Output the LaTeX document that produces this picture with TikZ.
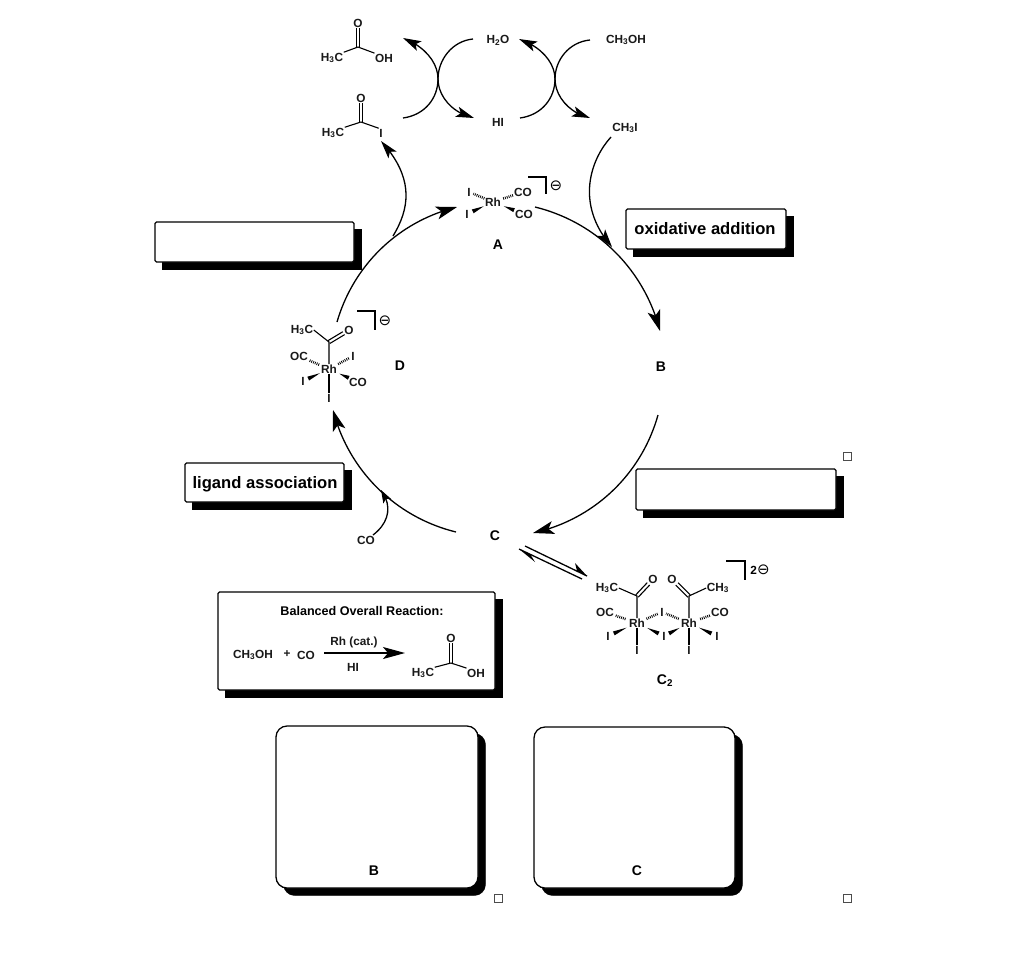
\documentclass[tikz,border=0pt]{standalone}
\usepackage{fontspec}
\setmainfont{Liberation Sans}
\newfontfamily\symfont{DejaVu Sans}
\usetikzlibrary{arrows.meta,calc,bending}
\newcommand{\sbs}[1]{\textsubscript{#1}}
\newcommand{\wdg}[4]{\fill ($(#1)!#3!(#2)$) -- ($($(#1)!#4!(#2)$)!2.1pt!90:(#1)$) -- ($($(#1)!#4!(#2)$)!2.1pt!-90:(#1)$) -- cycle;}
\newcommand{\hsh}[4]{\draw[hashbond] ($(#1)!#3!(#2)$) -- ($(#1)!#4!(#2)$);}
\newcommand{\dbl}[2]{\draw[bond,transform canvas={shift={(-1.6pt,0pt)}}] (#1) -- (#2); \draw[bond,transform canvas={shift={(1.6pt,0pt)}}] (#1) -- (#2);}
\tikzset{
  atom/.style={font=\fontsize{11.8}{13}\selectfont\bfseries,inner sep=0.5pt,text=black!90},
  lab/.style={font=\fontsize{14}{16}\selectfont\bfseries,inner sep=1pt},
  boxtext/.style={font=\fontsize{16.6}{19}\selectfont\bfseries,inner sep=0pt},
  ttlstyle/.style={font=\fontsize{12.6}{14}\selectfont\bfseries,inner sep=0pt},
  chg/.style={font=\symfont\fontsize{15}{16}\selectfont,inner sep=0pt},
  bond/.style={line width=1.1pt},
  hashbond/.style={line width=2.6pt,dash pattern=on 0.8pt off 1.1pt},
  bigarrow/.style={line width=1.3pt,-{Stealth[length=21pt,width=13pt,inset=5pt,flex]}},
  smallarrow/.style={line width=1.3pt,-{Stealth[length=18pt,width=10.5pt,inset=4pt,flex]}},
  curvel/.style={line width=1.3pt},
  shadow/.style={fill=black,draw=black,line width=0.3pt},
  whitebox/.style={fill=white,draw=black,line width=1.3pt},
  tinybox/.style={fill=white,draw=black!70,line width=1pt},
  brk/.style={line width=1.2pt},
}
\begin{document}
\begin{tikzpicture}[x=1pt,y=-1pt]
\useasboundingbox (0,0) rectangle (1024,972);
\fill[white] (0,0) rectangle (1024,972);

% ---------- boxes
\foreach \xa/\ya/\xb/\yb in {155/222/354/262,626/209/786/249,636/469/836/510,185/463/344/502,218/592/495/690}{
  \path[shadow] (\xa+7.5,\ya+7.5) rectangle (\xb+7.5,\yb+7.5);
  \path[whitebox,rounded corners=1.5pt] (\xa,\ya) rectangle (\xb,\yb);
}
\foreach \xa/\ya/\xb/\yb in {276/726/478/888,534/727/735/888}{
  \path[shadow,rounded corners=11pt] (\xa+7.5,\ya+7.5) rectangle (\xb+7.5,\yb+7.5);
  \path[whitebox,rounded corners=11pt] (\xa,\ya) rectangle (\xb,\yb);
}
\foreach \xa/\ya in {843.5/452.5,494.5/894.5,843.5/894.5}{
  \path[tinybox] (\xa,\ya) rectangle (\xa+8,\ya+8);
}
\node[boxtext] (oxadd) at (705,229) {oxidative addition};
\node[boxtext] (ligas) at (265,484) {ligand association};

% ---------- labels
\node[lab] (lA) at (498,245) {A};
\node[lab] (lB) at (661,367) {B};
\node[lab] (lC) at (495,536) {C};
\node[lab] (lD) at (400,366) {D};
\node[lab] (lC2) at (665,681) {C\sbs{2}};
\node[lab] (lB2) at (374,871) {B};
\node[lab] (lC3) at (637,871) {C};

% ---------- small molecules
\node[atom] (h2o) at (498,40) {H\sbs{2}O};
\node[atom] (meoh) at (626,40) {CH\sbs{3}OH};
\node[atom] (hi) at (498,122) {HI};
\node[atom] (mei) at (625,128) {CH\sbs{3}I};
\node[atom] (co) at (366,540) {CO};

% acetic acid (top)
\node[atom] (aaO) at (358,23) {O};
\coordinate (aaC) at (358,47);
\node[atom] (aaMe) at (332,58) {H\sbs{3}C};
\node[atom] (aaOH) at (384,58) {OH};
\dbl{aaO}{aaC}
\draw[bond] (aaMe.north east) -- (aaC) -- (aaOH.north west);

% acetyl iodide
\node[atom] (aiO) at (361,98) {O};
\coordinate (aiC) at (361,122);
\node[atom] (aiMe) at (333,133) {H\sbs{3}C};
\node[atom] (aiI) at (381,133) {I};
\dbl{aiO}{aiC}
\draw[bond] (aiMe.north east) -- (aiC) -- (aiI.north west);

% complex A
\node[atom] (rhA) at (493,202) {Rh};
\node[atom] (iA1) at (469,192) {I};
\node[atom] (iA2) at (467,214) {I};
\node[atom] (coA1) at (523,192) {CO};
\node[atom] (coA2) at (524,214) {CO};
\hsh{rhA}{iA1}{.36}{.82}
\wdg{rhA}{iA2}{.36}{.78}
\hsh{rhA}{coA1}{.34}{.68}
\wdg{rhA}{coA2}{.35}{.68}
\coordinate (bA1) at (528,177); \coordinate (bA2) at (546,177); \coordinate (bA3) at (546,194);
\draw[brk] (bA1) -- (bA2) -- (bA3);
\node[chg] (chA) at (556,186) {⊖};

% complex D
\node[atom] (rhD) at (329,369) {Rh};
\node[atom] (meD) at (302,330) {H\sbs{3}C};
\node[atom] (oD) at (349,330) {O};
\coordinate (cD) at (329,342);
\node[atom] (ocD) at (299,356) {OC};
\node[atom] (iD1) at (353,356) {I};
\node[atom] (iD2) at (303,381) {I};
\node[atom] (coD) at (358,382) {CO};
\node[atom] (iD3) at (329,398) {I};
\draw[bond] (meD.east) -- (cD) -- (rhD);
\draw[bond] (rhD) -- (iD3);
\draw[bond,transform canvas={shift={(-.9pt,1.45pt)}}] (cD) -- (oD);
\draw[bond,transform canvas={shift={(.9pt,-1.45pt)}}] (cD) -- (oD);
\hsh{rhD}{ocD}{.33}{.66}
\hsh{rhD}{iD1}{.38}{.85}
\wdg{rhD}{iD2}{.35}{.8}
\wdg{rhD}{coD}{.36}{.68}
\coordinate (bD1) at (357,311); \coordinate (bD2) at (375,311); \coordinate (bD3) at (375,330);
\draw[brk] (bD1) -- (bD2) -- (bD3);
\node[chg] (chD) at (385,321) {⊖};

% complex C2
\node[atom] (rhL) at (637,623) {Rh};
\node[atom] (rhR) at (689,623) {Rh};
\coordinate (cL) at (637,596);
\coordinate (cR) at (689,596);
\node[atom] (meL) at (607,588) {H\sbs{3}C};
\node[atom] (meR) at (718,588) {CH\sbs{3}};
\node[atom] (oL) at (653,579) {O};
\node[atom] (oR) at (672,579) {O};
\node[atom] (ocL) at (605,612) {OC};
\node[atom] (coR) at (720,612) {CO};
\node[atom] (iL) at (608,636) {I};
\node[atom] (iR) at (717,636) {I};
\node[atom] (iBu) at (662,612) {I};
\node[atom] (iBl) at (664,636) {I};
\node[atom] (iLb) at (637,650) {I};
\node[atom] (iRb) at (689,650) {I};
\draw[bond] (meL.east) -- (cL) -- (rhL);
\draw[bond] (meR.west) -- (cR) -- (rhR);
\draw[bond] (rhL) -- (iLb);
\draw[bond] (rhR) -- (iRb);
\draw[bond,transform canvas={shift={(-1.2pt,1.2pt)}}] (cL) -- (oL);
\draw[bond,transform canvas={shift={(1.2pt,-1.2pt)}}] (cL) -- (oL);
\draw[bond,transform canvas={shift={(1.2pt,1.2pt)}}] (cR) -- (oR);
\draw[bond,transform canvas={shift={(-1.2pt,-1.2pt)}}] (cR) -- (oR);
\hsh{rhL}{ocL}{.36}{.68}
\hsh{rhL}{iBu}{.38}{.85}
\wdg{rhL}{iL}{.36}{.8}
\wdg{rhL}{iBl}{.38}{.8}
\hsh{rhR}{iBu}{.38}{.85}
\wdg{rhR}{iBl}{.38}{.8}
\hsh{rhR}{coR}{.36}{.68}
\wdg{rhR}{iR}{.36}{.8}
\coordinate (bC1) at (726,561); \coordinate (bC2) at (745,561); \coordinate (bC3) at (745,580);
\draw[brk] (bC1) -- (bC2) -- (bC3);
\node[inner sep=0pt] (chC) at (760,570) {\fontsize{11.8}{13}\selectfont\textbf{2}{\symfont\fontsize{15}{16}\selectfont ⊖}};

% ---------- overall reaction
\node[ttlstyle] (ttl) at (362,611) {Balanced Overall Reaction:};
\node[atom] (rMe) at (253,655) {CH\sbs{3}OH};
\node[atom] (rPl) at (287,654) {+};
\node[atom] (rCO) at (306,655) {CO};
\node[atom] (rCat) at (354,642) {Rh (cat.)};
\node[atom] (rHI) at (353,667) {HI};
\coordinate (rA1) at (324,653);
\coordinate (rA2) at (405,653);
\draw[line width=1.3pt,-{Stealth[length=22pt,width=12pt,inset=5pt]}] (rA1) -- (rA2);
\node[atom] (pO) at (451,638) {O};
\coordinate (pC) at (451,663);
\node[atom] (pMe) at (423,673) {H\sbs{3}C};
\node[atom] (pOH) at (476,673) {OH};
\dbl{pO}{pC}
\draw[bond] (pMe.north east) -- (pC) -- (pOH.north west);

% ---------- catalytic cycle
\coordinate (sAB) at (535,207); \coordinate (tAB) at (660,331);
\coordinate (sBC) at (658,415); \coordinate (tBC) at (533,533);
\coordinate (sCD) at (456,532); \coordinate (tCD) at (333,410);
\coordinate (sDA) at (337,322); \coordinate (tDA) at (457,207);
\draw[bigarrow] (sAB) to[bend left=31,looseness=.92] (tAB);
\draw[bigarrow] (sBC) to[bend left=31,looseness=.92] (tBC);
\draw[bigarrow] (sCD) to[bend left=31,looseness=.92] (tCD);
\draw[bigarrow] (sDA) to[bend left=30,looseness=.92] (tDA);

% ---------- side arrows
\coordinate (x1a) at (473,39); \coordinate (x1b) at (438,79); \coordinate (x1c) at (403,118);
\coordinate (x1d) at (403,38); \coordinate (x1e) at (474,118);
\coordinate (x2a) at (590,40); \coordinate (x2b) at (555,79); \coordinate (x2c) at (520,118);
\coordinate (x2d) at (519,39); \coordinate (x2e) at (590,118);
\draw[curvel] (x1a) .. controls (452,41) and (438,60) .. (x1b) .. controls (438,98) and (425,115) .. (x1c);
\draw[smallarrow] (x1b) .. controls (438,62) and (424,46) .. (x1d);
\draw[smallarrow] (x1b) .. controls (438,96) and (452,113) .. (x1e);
\draw[curvel] (x2a) .. controls (569,42) and (555,60) .. (x2b) .. controls (555,98) and (542,115) .. (x2c);
\draw[smallarrow] (x2b) .. controls (555,62) and (540,46) .. (x2d);
\draw[smallarrow] (x2b) .. controls (555,96) and (569,113) .. (x2e);

\coordinate (ia1) at (611,137); \coordinate (ia2) at (612,247);
\draw[smallarrow] (ia1) .. controls (590,160) and (575,205) .. (ia2);
\coordinate (ac1) at (393,236); \coordinate (ac2) at (381,141);
\draw[smallarrow] (ac1) .. controls (412,205) and (412,175) .. (ac2);
\coordinate (co1) at (373,535); \coordinate (co2) at (381,490);
\draw[line width=1.3pt,-{Stealth[length=13pt,width=9pt,inset=3pt,flex]}] (co1) .. controls (390,522) and (392,505) .. (co2);

% ---------- equilibrium
\coordinate (eqA1) at (525,546); \coordinate (eqA2) at (587,576);
\coordinate (eqB1) at (519,549); \coordinate (eqB2) at (582,579);
\draw[line width=1.3pt] (eqA1) -- (eqA2);
\draw[line width=1.3pt] (eqB1) -- (eqB2);
\fill (eqA2) -- (575,563) -- (577,571) -- cycle;
\fill (eqB1) -- (535,562) -- (530,554) -- cycle;
\end{tikzpicture}
\end{document}
